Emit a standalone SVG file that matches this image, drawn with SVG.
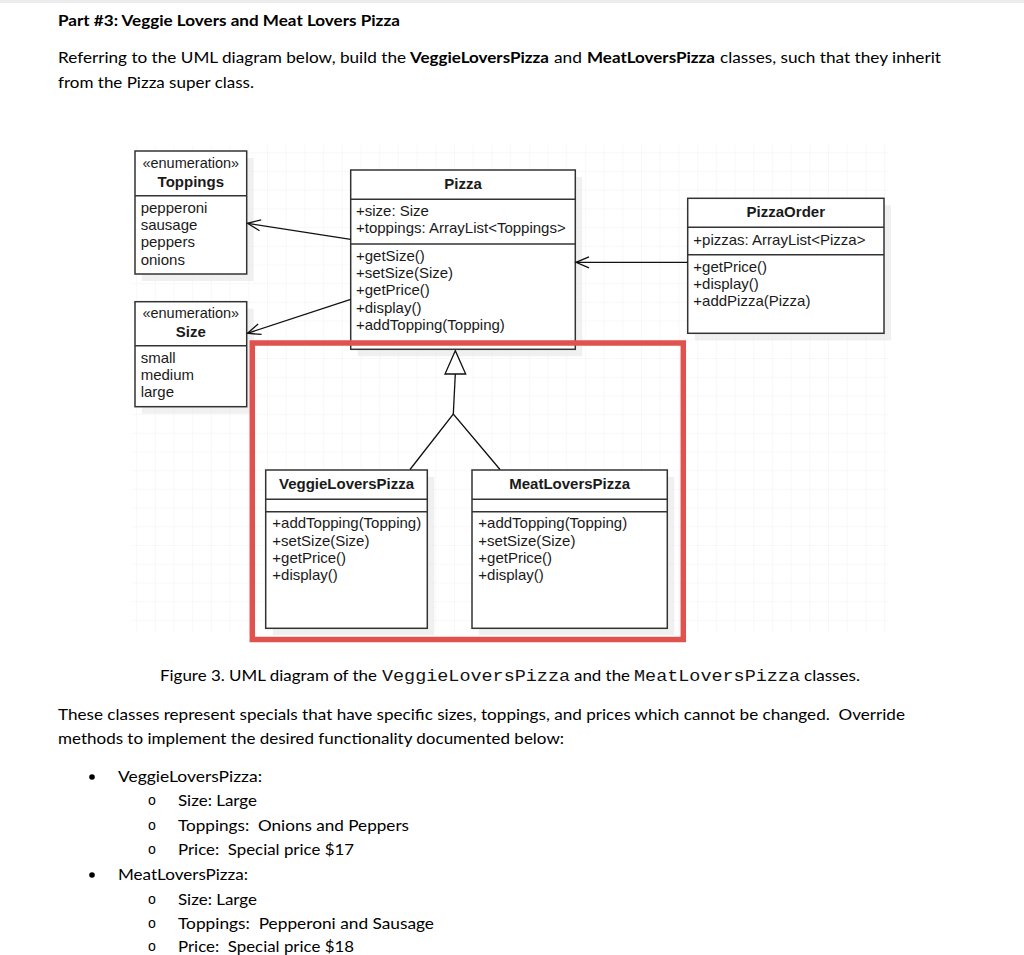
<svg xmlns="http://www.w3.org/2000/svg" width="1024" height="955" viewBox="0 0 1024 955">
<defs>
<style>
.doc{font-family:Lato,"Open Sans","Liberation Sans",sans-serif;font-size:16px;fill:#000;white-space:pre}
.docb{font-family:Lato,"Open Sans","Liberation Sans",sans-serif;font-size:16px;font-weight:bold;fill:#000}
.mono{font-family:"Liberation Mono","DejaVu Sans Mono",monospace;font-size:16.5px;fill:#111}
.bul{font-family:"Liberation Mono","DejaVu Sans Mono",monospace;font-size:14px;fill:#000}
.u{font-family:"Liberation Sans",Arial,sans-serif;font-size:15px;fill:#1a1a1a}
.ub{font-family:"Liberation Sans",Arial,sans-serif;font-size:15px;font-weight:bold;fill:#1a1a1a}
.st{font-family:"Liberation Sans",Arial,sans-serif;font-size:14.5px;fill:#1a1a1a}
.box{fill:#fff;stroke:#333;stroke-width:1.5}
.div{stroke:#333;stroke-width:1.5}
.sh{fill:#e6e6e6;opacity:0.6}
.con{stroke:#111;stroke-width:1.3;fill:none}
</style>
<pattern id="grid" x="136.1" y="152.3" width="18.7" height="18.7" patternUnits="userSpaceOnUse">
<path d="M 18.7 0 L 0 0 0 18.7" fill="none" stroke="#f1f1f1" stroke-width="1"/>
</pattern>
<marker id="open" markerUnits="userSpaceOnUse" markerWidth="16" markerHeight="14" refX="14" refY="7" orient="auto">
<path d="M 1 1.5 L 14 7 L 1 12.5" fill="none" stroke="#111" stroke-width="1.3"/>
</marker>
</defs>
<rect width="1024" height="955" fill="#fff"/>
<rect width="1024" height="3" fill="#ececec"/>

<g id="intro">
<text x="58" y="26" class="docb" textLength="342" lengthAdjust="spacingAndGlyphs">Part #3: Veggie Lovers and Meat Lovers Pizza</text>
<text x="58" y="63" class="doc" textLength="348" lengthAdjust="spacingAndGlyphs">Referring to the UML diagram below, build the</text>
<text x="410" y="63" class="docb" textLength="139" lengthAdjust="spacingAndGlyphs">VeggieLoversPizza</text>
<text x="554" y="63" class="doc" textLength="28" lengthAdjust="spacingAndGlyphs">and</text>
<text x="587" y="63" class="docb" textLength="128" lengthAdjust="spacingAndGlyphs">MeatLoversPizza</text>
<text x="720" y="63" class="doc" textLength="221" lengthAdjust="spacingAndGlyphs">classes, such that they inherit</text>
<text x="58" y="88" class="doc" textLength="196" lengthAdjust="spacingAndGlyphs">from the Pizza super class.</text>
</g>

<g id="canvas">
<rect x="132" y="145" width="756" height="487" fill="url(#grid)"/>
</g>

<g id="Toppings">
<rect x="142" y="158" width="111.7" height="123" class="sh"/>
<rect x="135" y="151" width="111.7" height="123" class="box"/>
<line x1="135" y1="195.7" x2="246.7" y2="195.7" class="div"/>
<text x="190.8" y="168.3" class="st" text-anchor="middle">«enumeration»</text>
<text x="190.8" y="186.7" class="ub" text-anchor="middle">Toppings</text>
<text x="140.7" y="212.7" class="u">pepperoni</text>
<text x="140.7" y="230" class="u">sausage</text>
<text x="140.7" y="247.3" class="u">peppers</text>
<text x="140.7" y="264.7" class="u">onions</text>
</g>

<g id="Size">
<rect x="142" y="308.7" width="111.7" height="105" class="sh"/>
<rect x="135" y="301.7" width="111.7" height="105" class="box"/>
<line x1="135" y1="345.7" x2="246.7" y2="345.7" class="div"/>
<text x="190.8" y="318.3" class="st" text-anchor="middle">«enumeration»</text>
<text x="190.8" y="336.7" class="ub" text-anchor="middle">Size</text>
<text x="140.7" y="362.7" class="u">small</text>
<text x="140.7" y="380" class="u">medium</text>
<text x="140.7" y="397.3" class="u">large</text>
</g>

<g id="Pizza">
<rect x="357.7" y="177" width="224.6" height="179.3" class="sh"/>
<rect x="350.7" y="170" width="224.6" height="179.3" class="box"/>
<line x1="350.7" y1="199.3" x2="575.3" y2="199.3" class="div"/>
<line x1="350.7" y1="244" x2="575.3" y2="244" class="div"/>
<text x="463" y="189" class="ub" text-anchor="middle">Pizza</text>
<text x="356" y="216" class="u">+size: Size</text>
<text x="356" y="233.3" class="u">+toppings: ArrayList&lt;Toppings&gt;</text>
<text x="356" y="260.7" class="u">+getSize()</text>
<text x="356" y="278" class="u">+setSize(Size)</text>
<text x="356" y="295.3" class="u">+getPrice()</text>
<text x="356" y="312.7" class="u">+display()</text>
<text x="356" y="330" class="u">+addTopping(Topping)</text>
</g>

<g id="PizzaOrder">
<rect x="694.7" y="205.3" width="196.3" height="135" class="sh"/>
<rect x="687.7" y="198.3" width="196.3" height="135" class="box"/>
<line x1="687.7" y1="227.3" x2="884" y2="227.3" class="div"/>
<line x1="687.7" y1="254.7" x2="884" y2="254.7" class="div"/>
<text x="785.8" y="216.7" class="ub" text-anchor="middle">PizzaOrder</text>
<text x="693.3" y="245" class="u">+pizzas: ArrayList&lt;Pizza&gt;</text>
<text x="693.3" y="271.7" class="u">+getPrice()</text>
<text x="693.3" y="289" class="u">+display()</text>
<text x="693.3" y="306.3" class="u">+addPizza(Pizza)</text>
</g>

<g id="VeggieLoversPizza">
<rect x="272.7" y="477" width="161.6" height="158.3" class="sh"/>
<rect x="265.7" y="470" width="161.6" height="158.3" class="box"/>
<line x1="265.7" y1="499.3" x2="427.3" y2="499.3" class="div"/>
<line x1="265.7" y1="511.7" x2="427.3" y2="511.7" class="div"/>
<text x="346.5" y="489.3" class="ub" text-anchor="middle">VeggieLoversPizza</text>
<text x="272.3" y="528.3" class="u">+addTopping(Topping)</text>
<text x="272.3" y="545.7" class="u">+setSize(Size)</text>
<text x="272.3" y="563" class="u">+getPrice()</text>
<text x="272.3" y="580.3" class="u">+display()</text>
</g>

<g id="MeatLoversPizza">
<rect x="479" y="477" width="195.3" height="158.3" class="sh"/>
<rect x="472" y="470" width="195.3" height="158.3" class="box"/>
<line x1="472" y1="499.3" x2="667.3" y2="499.3" class="div"/>
<line x1="472" y1="511.7" x2="667.3" y2="511.7" class="div"/>
<text x="569.7" y="489.3" class="ub" text-anchor="middle">MeatLoversPizza</text>
<text x="478.3" y="528.3" class="u">+addTopping(Topping)</text>
<text x="478.3" y="545.7" class="u">+setSize(Size)</text>
<text x="478.3" y="563" class="u">+getPrice()</text>
<text x="478.3" y="580.3" class="u">+display()</text>
</g>

<g id="connectors">
<line x1="350.7" y1="239.3" x2="247.5" y2="223.3" class="con" marker-end="url(#open)"/>
<line x1="350.7" y1="299.3" x2="247.5" y2="333.3" class="con" marker-end="url(#open)"/>
<line x1="687.7" y1="262.3" x2="576" y2="262.3" class="con" marker-end="url(#open)"/>
<polyline points="410,469.5 453.3,414 500,469.5" class="con"/>
<line x1="453.3" y1="414" x2="455.3" y2="374" class="con"/>
<polygon points="455.3,350.7 445,374 465.7,374" fill="#fff" stroke="#111" stroke-width="1.3"/>
</g>

<g id="highlight">
<rect x="252.3" y="343" width="431" height="296.5" fill="none" stroke="#e0524e" stroke-width="5.5"/>
</g>

<g id="caption">
<text x="160" y="681" class="doc" textLength="217" lengthAdjust="spacingAndGlyphs">Figure 3. UML diagram of the</text>
<text x="382" y="681" class="mono" textLength="188" lengthAdjust="spacingAndGlyphs">VeggieLoversPizza</text>
<text x="574" y="681" class="doc" textLength="56" lengthAdjust="spacingAndGlyphs">and the</text>
<text x="634" y="681" class="mono" textLength="166" lengthAdjust="spacingAndGlyphs">MeatLoversPizza</text>
<text x="804" y="681" class="doc" textLength="56" lengthAdjust="spacingAndGlyphs">classes.</text>
</g>

<g id="body">
<text x="58" y="720" class="doc" xml:space="preserve" textLength="847" lengthAdjust="spacingAndGlyphs">These classes represent specials that have specific sizes, toppings, and prices which cannot be changed.  Override</text>
<text x="58" y="744" class="doc" textLength="506" lengthAdjust="spacingAndGlyphs">methods to implement the desired functionality documented below:</text>
</g>

<g id="list">
<circle cx="92" cy="777" r="2.8" fill="#000"/>
<text x="118" y="782" class="doc" textLength="144" lengthAdjust="spacingAndGlyphs">VeggieLoversPizza:</text>
<text x="152" y="805" class="bul" text-anchor="middle">o</text>
<text x="178" y="806" class="doc" textLength="79" lengthAdjust="spacingAndGlyphs">Size: Large</text>
<text x="152" y="830" class="bul" text-anchor="middle">o</text>
<text x="178" y="831" class="doc" xml:space="preserve" textLength="231" lengthAdjust="spacingAndGlyphs">Toppings:  Onions and Peppers</text>
<text x="152" y="854" class="bul" text-anchor="middle">o</text>
<text x="178" y="855" class="doc" xml:space="preserve" textLength="176" lengthAdjust="spacingAndGlyphs">Price:  Special price $17</text>
<circle cx="92" cy="875" r="2.8" fill="#000"/>
<text x="118" y="880" class="doc" textLength="130" lengthAdjust="spacingAndGlyphs">MeatLoversPizza:</text>
<text x="152" y="904" class="bul" text-anchor="middle">o</text>
<text x="178" y="905" class="doc" textLength="79" lengthAdjust="spacingAndGlyphs">Size: Large</text>
<text x="152" y="928" class="bul" text-anchor="middle">o</text>
<text x="178" y="929" class="doc" xml:space="preserve" textLength="256" lengthAdjust="spacingAndGlyphs">Toppings:  Pepperoni and Sausage</text>
<text x="152" y="951" class="bul" text-anchor="middle">o</text>
<text x="178" y="952" class="doc" xml:space="preserve" textLength="176" lengthAdjust="spacingAndGlyphs">Price:  Special price $18</text>
</g>
</svg>
